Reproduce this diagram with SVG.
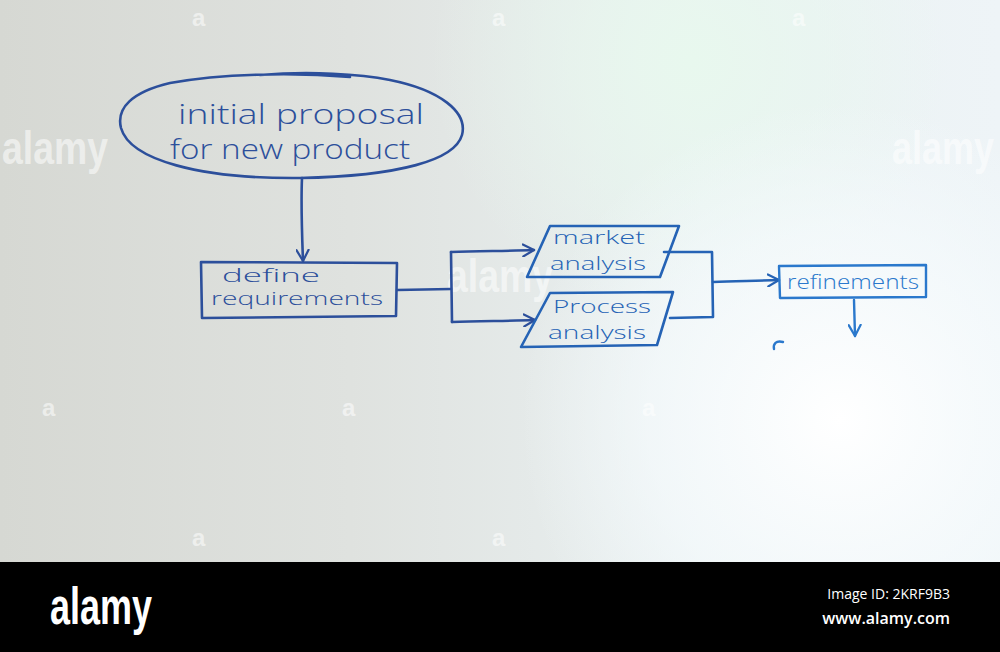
<svg xmlns="http://www.w3.org/2000/svg" width="1000" height="652" viewBox="0 0 1000 652">
  <defs>
    <linearGradient id="bg" x1="0" y1="0" x2="1" y2="0">
      <stop offset="0" stop-color="#d6d8d3"/>
      <stop offset="0.35" stop-color="#dfe2df"/>
      <stop offset="0.7" stop-color="#eaf1f2"/>
      <stop offset="1" stop-color="#eef4f7"/>
    </linearGradient>
    <radialGradient id="glowG" cx="690" cy="60" r="260" gradientUnits="userSpaceOnUse">
      <stop offset="0" stop-color="#e8f8ee" stop-opacity="1"/>
      <stop offset="1" stop-color="#e8f8ee" stop-opacity="0"/>
    </radialGradient>
    <radialGradient id="glowW" cx="840" cy="420" r="320" gradientUnits="userSpaceOnUse">
      <stop offset="0" stop-color="#ffffff" stop-opacity="1"/>
      <stop offset="0.6" stop-color="#f6fbfd" stop-opacity="0.65"/>
      <stop offset="1" stop-color="#f4fafc" stop-opacity="0"/>
    </radialGradient>
    <marker id="arr" viewBox="0 0 14 14" refX="12" refY="7" markerWidth="14" markerHeight="14" markerUnits="userSpaceOnUse" orient="auto">
      <path d="M1,1 L12,7 L1,13" fill="none" stroke="context-stroke" stroke-width="2.2" stroke-linecap="round" stroke-linejoin="round"/>
    </marker>
    <style>
      .ink1 { fill: none; stroke: #2c4f9b; stroke-width: 2.6; stroke-linecap: round; stroke-linejoin: round; }
      .ink2 { fill: none; stroke: #2563b5; stroke-width: 2.6; stroke-linecap: round; stroke-linejoin: round; }
      .ink3 { fill: none; stroke: #2a78cc; stroke-width: 2.4; stroke-linecap: round; stroke-linejoin: round; }
      .hand { font-family: "Open Sans", "DejaVu Sans", sans-serif; font-weight: 300; }
      .t1 { fill: #2c4f9b; }
      .t2 { fill: #2563b5; }
      .t3 { fill: #2a78cc; }
      .wm { font-family: "Liberation Sans", Arial, sans-serif; font-weight: bold; fill: #ffffff; fill-opacity: 0.55; }
    </style>
  </defs>

  <!-- board background -->
  <rect x="0" y="0" width="1000" height="562" fill="url(#bg)"/>
  <rect x="0" y="0" width="1000" height="562" fill="url(#glowG)"/>
  <rect x="0" y="0" width="1000" height="562" fill="url(#glowW)"/>

  <!-- faint watermarks -->
  <g id="watermarks" class="wm">
    <text x="192" y="26" font-size="24">a</text>
    <text x="492" y="26" font-size="24">a</text>
    <text x="792" y="26" font-size="24">a</text>
    <text x="42" y="416" font-size="24">a</text>
    <text x="342" y="416" font-size="24">a</text>
    <text x="642" y="416" font-size="24">a</text>
    <text x="192" y="546" font-size="24">a</text>
    <text x="492" y="546" font-size="24">a</text>
    <text x="2" y="164" font-size="46" textLength="106" lengthAdjust="spacingAndGlyphs">alamy</text>
    <text x="892" y="164" font-size="46" textLength="102" lengthAdjust="spacingAndGlyphs">alamy</text>
    <text x="447" y="292" font-size="46" textLength="106" lengthAdjust="spacingAndGlyphs">alamy</text>
  </g>

  <!-- connectors -->
  <g id="connectors">
    <path class="ink1" d="M302,178 C301,200 302,235 303,261" marker-end="url(#arr)"/>
    <path class="ink1" d="M397,290 L451,289"/>
    <path class="ink1" d="M451,252 L452,322"/>
    <path class="ink1" d="M451,252 C480,251 510,251 534,250" marker-end="url(#arr)"/>
    <path class="ink1" d="M452,322 C480,321 510,321 535,320" marker-end="url(#arr)"/>
    <path class="ink2" d="M664,252 L712,252 L713,317 L670,318"/>
    <path class="ink2" d="M713,282 C735,281 755,281 779,280" marker-end="url(#arr)"/>
    <path class="ink3" d="M854,300 L855,336" marker-end="url(#arr)"/>
    <path class="ink3" d="M774,349 C773,344 776,340 783,342"/>
  </g>

  <!-- nodes -->
  <g id="node-initial">
    <path class="ink1" d="M260,75 C310,71 360,74 390,80 C440,90 468,112 462,135 C455,160 400,176 300,178 C200,179 130,160 121,128 C116,108 132,92 170,83 C220,74 290,72 350,77"/>
    <text class="hand t1" x="178" y="124" font-size="27" textLength="246" lengthAdjust="spacingAndGlyphs">initial proposal</text>
    <text class="hand t1" x="170" y="159" font-size="27" textLength="240" lengthAdjust="spacingAndGlyphs">for new product</text>
  </g>

  <g id="node-define">
    <path class="ink1" d="M201,262 L397,263 L396,316 L202,318 Z"/>
    <text class="hand t1" x="222" y="282" font-size="19" textLength="98" lengthAdjust="spacingAndGlyphs">define</text>
    <text class="hand t1" x="211" y="305" font-size="19" textLength="172" lengthAdjust="spacingAndGlyphs">requirements</text>
  </g>

  <g id="node-market">
    <path class="ink2" d="M550,226 L679,226 L660,277 L527,277 Z"/>
    <text class="hand t2" x="553" y="244" font-size="18" textLength="92" lengthAdjust="spacingAndGlyphs">market</text>
    <text class="hand t2" x="550" y="270" font-size="18" textLength="96" lengthAdjust="spacingAndGlyphs">analysis</text>
  </g>

  <g id="node-process">
    <path class="ink2" d="M550,293 L673,292 L657,345 L521,347 Z"/>
    <text class="hand t2" x="553" y="313" font-size="19" textLength="98" lengthAdjust="spacingAndGlyphs">Process</text>
    <text class="hand t2" x="548" y="339" font-size="19" textLength="98" lengthAdjust="spacingAndGlyphs">analysis</text>
  </g>

  <g id="node-refinements">
    <path class="ink3" d="M779,266 L926,265 L926,297 L780,298 Z"/>
    <text class="hand t3" x="787" y="289" font-size="20" textLength="132" lengthAdjust="spacingAndGlyphs">refinements</text>
  </g>

  <!-- bottom bar -->
  <g id="footer">
    <rect x="0" y="562" width="1000" height="90" fill="#000000"/>
    <text x="50" y="624" font-family="Liberation Sans, Arial, sans-serif" font-weight="bold" font-size="52" fill="#ffffff" textLength="102" lengthAdjust="spacingAndGlyphs">alamy</text>
    <text x="950" y="599" text-anchor="end" font-family="Open Sans, DejaVu Sans, sans-serif" font-size="14" fill="#ffffff">Image ID: 2KRF9B3</text>
    <text x="950" y="624" text-anchor="end" font-family="Open Sans, DejaVu Sans, sans-serif" font-weight="600" font-size="16" fill="#ffffff">www.alamy.com</text>
  </g>
</svg>
